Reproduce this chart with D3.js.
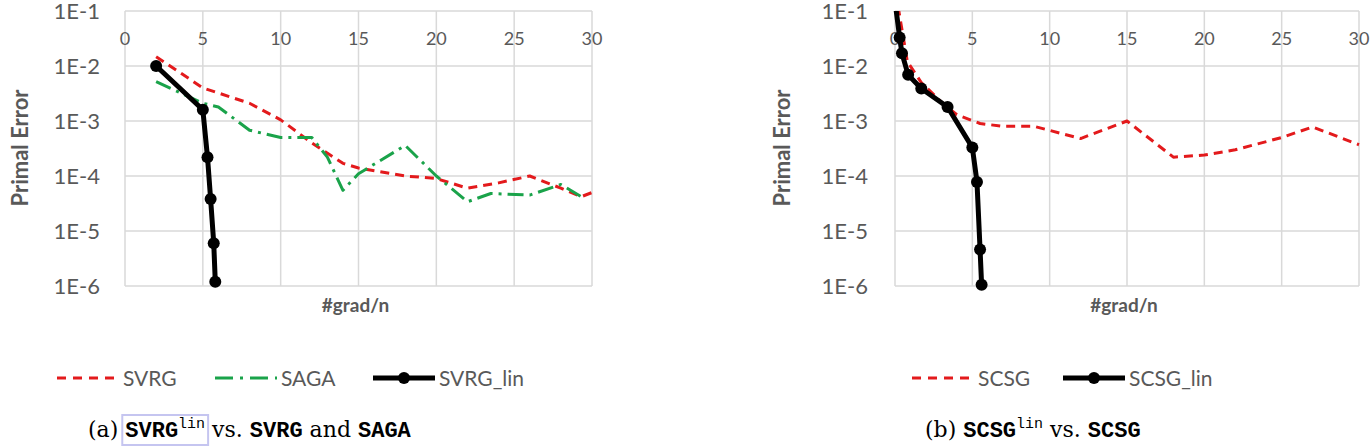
<!DOCTYPE html><html><head><meta charset="utf-8"><script src="https://cdn.jsdelivr.net/npm/d3@7"></script>
<style>body{margin:0;background:#fff}</style></head><body><svg id="c" width="1372" height="448"></svg>
<script>
const xTicks=[0,5,10,15,20,25,30];
const yTicks=[1e-1,1e-2,1e-3,1e-4,1e-5,1e-6];
const yTickLabels=["1E-1","1E-2","1E-3","1E-4","1E-5","1E-6"];
const svrg=[[2,0.0148],[5,0.004],[8,0.0021],[10,0.00105],[12,0.0004],[14,0.00017],[15,0.00014],[18,0.0001],[20,0.00009],[22,0.00006],[24,0.000075],[26,0.0001],[28,0.00006],[29.3,0.000042],[30,0.00005]];
const saga=[[2,0.0052],[5,0.0021],[6,0.0018],[8,0.00068],[10,0.0005],[12,0.0005],[13,0.00022],[14,0.000055],[15,0.00011],[18,0.00036],[20,0.0001],[22,0.000034],[23.5,0.000048],[26,0.000045],[28,0.00007],[29.5,0.000039]];
const svrgLin=[[2,0.01],[5,0.0016],[5.3,0.00022],[5.5,0.000038],[5.7,0.000006],[5.8,0.0000012]];
const scsg=[[0.2,0.12],[0.8,0.012],[1.7,0.005],[3,0.0022],[4,0.0013],[5.5,0.0009],[7,0.0008],[9,0.0008],[12,0.00048],[15,0.001],[18,0.00022],[20,0.00024],[22,0.0003],[25,0.0005],[27,0.00078],[30,0.00037]];
const scsgLin=[[0,0.15],[0.3,0.033],[0.45,0.017],[0.85,0.0069],[1.7,0.0039],[3.4,0.0018],[5,0.00033],[5.3,0.000078],[5.5,0.0000046],[5.6,0.00000105]];
const panels=[
 {x0:125,x1:592,yl:100,tl:20,series:[{d:svrg,c:"#e31a1c",da:"9,6",w:3},{d:saga,c:"#1aa34a",da:"16,6,3,6",w:3},{d:svrgLin,c:"#000",w:5,m:true}],
  legend:[{n:"SVRG",x:57,c:"#e31a1c",da:"9,7"},{n:"SAGA",x:215,c:"#1aa34a",da:"18,7,3,7"},{n:"SVRG_lin",x:373,c:"#000",m:true}],cx:88,cap:["(a) ","SVRG","lin"," vs. ","SVRG"," and ","SAGA"],box:true},
 {x0:895,x1:1359,yl:868,tl:782,series:[{d:scsg,c:"#e31a1c",da:"9,6",w:3},{d:scsgLin,c:"#000",w:5,m:true}],
  legend:[{n:"SCSG",x:912,c:"#e31a1c",da:"9,7"},{n:"SCSG_lin",x:1063,c:"#000",m:true}],cx:925,cap:["(b) ","SCSG","lin"," vs. ","SCSG"]}
];
const svg=d3.select("#c");
const font="Lato, 'Open Sans', sans-serif";
const Y0=11,Y1=286;
panels.forEach((p,i)=>{
 const x=d3.scaleLinear().domain([0,30]).range([p.x0,p.x1]);
 const y=d3.scaleLog().domain([1e-6,1e-1]).range([Y1,Y0]);
 const g=svg.append("g");
 yTicks.forEach(t=>g.append("line").attr("x1",p.x0).attr("x2",p.x1).attr("y1",y(t)).attr("y2",y(t)).attr("stroke","#d9d9d9").attr("stroke-width",1.5));
 xTicks.forEach(t=>g.append("line").attr("x1",x(t)).attr("x2",x(t)).attr("y1",Y0).attr("y2",Y1).attr("stroke","#d9d9d9").attr("stroke-width",1.5));
 xTicks.forEach(t=>g.append("text").attr("x",x(t)).attr("y",45).attr("text-anchor","middle").attr("font-family",font).attr("font-size",18).attr("fill","#595959").text(t));
 yTicks.forEach((t,j)=>g.append("text").attr("x",p.yl).attr("y",y(t)+8).attr("text-anchor","end").attr("font-family",font).attr("font-size",22).attr("fill","#595959").text(yTickLabels[j]));
 g.append("text").attr("transform",`translate(${p.tl+8},148) rotate(-90)`).attr("text-anchor","middle").attr("font-family",font).attr("font-weight","bold").attr("font-size",22).attr("fill","#595959").text("Primal Error");
 g.append("text").attr("x",(p.x0+p.x1)/2-3).attr("y",312).attr("text-anchor","middle").attr("font-family",font).attr("font-weight","bold").attr("font-size",19).attr("fill","#595959").text("#grad/n");
 const cid="clip"+i;
 svg.append("clipPath").attr("id",cid).append("rect").attr("x",p.x0-10).attr("y",Y0).attr("width",p.x1-p.x0+12).attr("height",Y1-Y0+10);
 const line=d3.line().x(d=>x(d[0])).y(d=>y(d[1]));
 const cg=g.append("g").attr("clip-path",`url(#${cid})`);
 p.series.forEach(s=>{
  cg.append("path").attr("d",line(s.d)).attr("fill","none").attr("stroke",s.c).attr("stroke-width",s.w).attr("stroke-dasharray",s.da||null).attr("stroke-linejoin","round");
  if(s.m) cg.selectAll(null).data(s.d).join("circle").attr("cx",d=>x(d[0])).attr("cy",d=>y(d[1])).attr("r",6).attr("fill","#000");
 });
 p.legend.forEach(l=>{
  g.append("line").attr("x1",l.x).attr("x2",l.x+62).attr("y1",378).attr("y2",378).attr("stroke",l.c).attr("stroke-width",l.m?5:3).attr("stroke-dasharray",l.da||null);
  if(l.m) g.append("circle").attr("cx",l.x+31).attr("cy",378).attr("r",6).attr("fill","#000");
  g.append("text").attr("x",l.x+66).attr("y",386).attr("font-family",font).attr("font-size",21).attr("fill","#595959").text(l.n);
 });
 const t=g.append("text").attr("x",p.cx).attr("y",437).attr("font-family","'DejaVu Serif','Liberation Serif',serif").attr("font-size",22).attr("fill","#000");
 const mono="'Liberation Mono','DejaVu Sans Mono',monospace";
 p.cap.forEach((s,k)=>{
  const ts=t.append("tspan").text(s);
  if(s==="lin"){ts.attr("font-family",mono).attr("font-size",15).attr("dy",-9);}
  else if(/^(SVRG|SCSG|SAGA)$/.test(s)){ts.attr("font-family",mono).attr("font-weight","bold").attr("font-size",22);}
  if(k>0&&p.cap[k-1]==="lin") ts.attr("dy",9);
 });
 if(p.box){
  const nodes=t.selectAll("tspan").nodes();
  const b1=nodes[1].getBBox(), b2=nodes[2].getBBox();
  g.append("rect").attr("x",b1.x-3).attr("y",Math.min(b1.y,b2.y)-1).attr("width",b2.x+b2.width-b1.x+6).attr("height",b1.y+b1.height-Math.min(b1.y,b2.y)+2).attr("fill","none").attr("stroke","#c5c5f0").attr("stroke-width",2);
 }
});
</script></body></html>
